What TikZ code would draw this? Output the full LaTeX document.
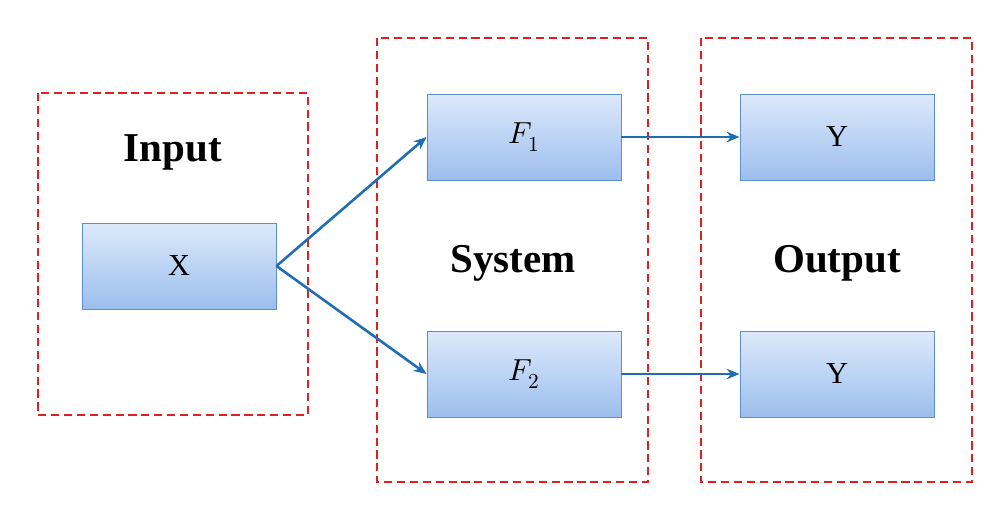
\documentclass[tikz,border=0pt]{standalone}
\usepackage{fontspec}
\setmainfont{Liberation Serif}
\usepackage{unicode-math}
\usetikzlibrary{arrows.meta}
\definecolor{redd}{HTML}{E02020}
\definecolor{arr}{HTML}{1F6DB5}
\definecolor{btop}{HTML}{DDE9FB}
\definecolor{bbot}{HTML}{9CBEEE}
\definecolor{bdr}{HTML}{5B8FD0}
\begin{document}
\begin{tikzpicture}[x=0.03cm,y=-0.03cm,
  grp/.style={draw=redd,line width=2.5pt,dash pattern=on 7pt off 4pt},
  blk/.style={draw=bdr,line width=0.8pt,top color=btop,bottom color=bbot,minimum width=5.82cm,minimum height=2.58cm,inner sep=0pt,font=\fontsize{26}{30}\selectfont},
  ttl/.style={font=\bfseries\fontsize{35}{40}\selectfont},
  con/.style={draw=arr,line width=2.2pt,-{Stealth[length=11pt,width=9pt]}}]
\useasboundingbox (0,0) rectangle (999,521);
\draw[grp] (38,93) rectangle (308,415);
\draw[grp] (377,38) rectangle (648,482);
\draw[grp] (701,38) rectangle (972,482);
\node[ttl] (tin) at (173,152) {Input};
\node[ttl] (tsy) at (513,263) {System};
\node[ttl] (tou) at (837,263) {Output};
\node[blk] (x) at (179,266) {X};
\node[blk] (f1) at (524,137) {$F_1$};
\node[blk] (f2) at (524,374) {$F_2$};
\node[blk] (y1) at (837,137) {Y};
\node[blk] (y2) at (837,374) {Y};
\draw[con] (x.east) -- (f1.west);
\draw[con] (x.east) -- (f2.west);
\draw[con] (f1.east) -- (y1.west);
\draw[con] (f2.east) -- (y2.west);
\end{tikzpicture}
\end{document}
